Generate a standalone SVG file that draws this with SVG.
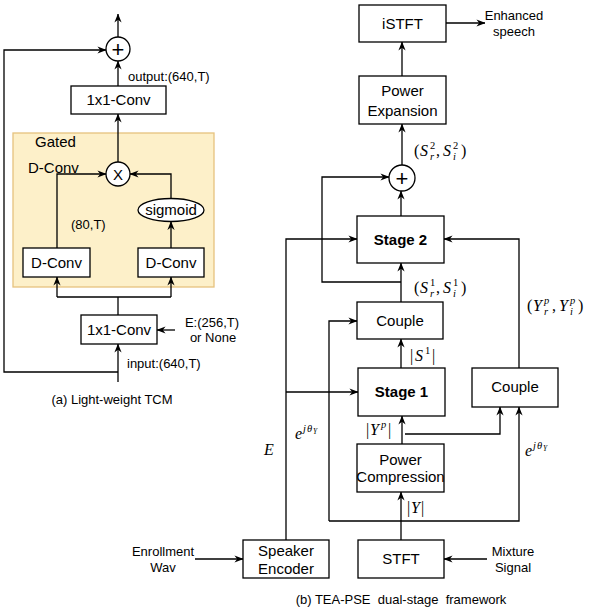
<svg xmlns="http://www.w3.org/2000/svg" width="590" height="608" viewBox="0 0 590 608">
<defs>
<marker id="arr" viewBox="0 0 10 10" refX="9.5" refY="5" markerWidth="9" markerHeight="9" orient="auto" markerUnits="userSpaceOnUse">
<path d="M0,1 L10,5 L0,9 L3,5 z" fill="#000"/>
</marker>
<style>
.box{fill:#fff;stroke:#000;stroke-width:1.3}
.ln{fill:none;stroke:#000;stroke-width:1.3;marker-end:url(#arr)}
.pl{fill:none;stroke:#000;stroke-width:1.3}
.t{font-family:"Liberation Sans",Arial,sans-serif;font-size:15px;fill:#000;text-anchor:middle}
.s{font-family:"Liberation Sans",Arial,sans-serif;font-size:13px;fill:#000}
.b{font-weight:bold}
.m{font-family:"Liberation Serif","DejaVu Serif",serif;font-size:16px;fill:#000}
.mi{font-family:"Liberation Serif","DejaVu Serif",serif;font-size:16px;font-style:italic;fill:#000}
.ms{font-family:"Liberation Serif","DejaVu Serif",serif;font-size:10.5px;font-style:italic;fill:#000}
.mn{font-family:"Liberation Serif","DejaVu Serif",serif;font-size:10.5px;fill:#000}
.pls{font-family:"Liberation Sans",Arial,sans-serif;font-size:22px;fill:#000;text-anchor:middle}
</style>
</defs>

<!-- Left: Light-weight TCM -->
<rect id="gated" x="13" y="133" width="201" height="154" fill="#fdf0c9" stroke="#e6c27e" stroke-width="1.3"/>
<g id="plusA"><circle cx="118" cy="49" r="12" class="box"/><text x="118" y="56.5" class="pls">+</text></g>
<g id="conv1a"><rect x="71" y="86" width="95" height="28" class="box"/><text x="118.5" y="105" class="t">1x1-Conv</text></g>
<g id="mulX"><circle cx="118" cy="174" r="12" class="box"/><text x="118" y="179.5" class="t">X</text></g>
<g id="sigmoid"><ellipse cx="171" cy="210" rx="33" ry="11.5" class="box"/><text x="171" y="215" class="t">sigmoid</text></g>
<g id="dconvL"><rect x="23" y="248" width="67" height="29" class="box"/><text x="56.5" y="268" class="t">D-Conv</text></g>
<g id="dconvR"><rect x="138" y="248" width="66" height="29" class="box"/><text x="171" y="268" class="t">D-Conv</text></g>
<g id="conv1b"><rect x="81" y="315" width="76" height="29" class="box"/><text x="119" y="335" class="t">1x1-Conv</text></g>

<!-- Right: TEA-PSE -->
<g id="istft"><rect x="359" y="5" width="87" height="37" class="box"/><text x="402.5" y="29" class="t">iSTFT</text></g>
<g id="pexp"><rect x="359" y="76" width="87" height="48" class="box"/><text x="402.5" y="96" class="t">Power</text><text x="402.5" y="116" class="t">Expansion</text></g>
<g id="plusB"><circle cx="402" cy="178" r="13" class="box"/><text x="402" y="185.5" class="pls">+</text></g>
<g id="stage2"><rect x="357" y="216" width="87" height="47" class="box"/><text x="400.5" y="245" class="t b">Stage 2</text></g>
<g id="couple1"><rect x="357" y="302" width="86" height="37" class="box"/><text x="400" y="326" class="t">Couple</text></g>
<g id="stage1"><rect x="358" y="368" width="87" height="48" class="box"/><text x="401.5" y="397" class="t b">Stage 1</text></g>
<g id="couple2"><rect x="472" y="368" width="86" height="39" class="box"/><text x="515" y="392" class="t">Couple</text></g>
<g id="pcomp"><rect x="357" y="444" width="87" height="48" class="box"/><text x="400.5" y="465" class="t" font-size="14">Power</text><text x="400.5" y="482" class="t" font-size="14">Compression</text></g>
<g id="stft"><rect x="358" y="540" width="86" height="38" class="box"/><text x="401" y="564" class="t">STFT</text></g>
<g id="spkenc"><rect x="243" y="540" width="86" height="38" class="box"/><text x="286" y="556" class="t">Speaker</text><text x="286" y="574" class="t">Encoder</text></g>

<g id="connectors">
<line x1="118" y1="37" x2="118" y2="14" class="ln"/>
<line x1="118" y1="86" x2="118" y2="61" class="ln"/>
<line x1="118" y1="162" x2="118" y2="114" class="ln"/>
<path d="M57,248 V174 H106" class="ln"/>
<path d="M171,198.5 V174 H130" class="ln"/>
<line x1="171" y1="248" x2="171" y2="221.5" class="ln"/>
<path d="M118,315 V297" class="pl"/>
<path d="M57,297 H171" class="pl"/>
<line x1="57" y1="297" x2="57" y2="277" class="ln"/>
<line x1="171" y1="297" x2="171" y2="277" class="ln"/>
<line x1="118" y1="382" x2="118" y2="344" class="ln"/>
<path d="M118,372 H4 V50 H106" class="ln"/>
<line x1="175" y1="330" x2="157" y2="330" class="ln"/>

<line x1="446" y1="23" x2="485" y2="23" class="ln"/>
<line x1="402" y1="76" x2="402" y2="42" class="ln"/>
<line x1="402" y1="165" x2="402" y2="124" class="ln"/>
<line x1="401" y1="216" x2="401" y2="191" class="ln"/>
<path d="M401,282 H322 V177 H389" class="ln"/>
<line x1="401" y1="302" x2="401" y2="263" class="ln"/>
<path d="M286,540 V239 H357" class="ln"/>
<line x1="286" y1="392" x2="358" y2="392" class="ln"/>
<path d="M519,368 V239 H444" class="ln"/>
<line x1="401" y1="368" x2="401" y2="339" class="ln"/>
<path d="M329,521 V321 H357" class="ln"/>
<path d="M329,521 H519 V407" class="ln"/>
<line x1="402" y1="444" x2="402" y2="416" class="ln"/>
<path d="M405,434 H500 V407" class="ln"/>
<line x1="401" y1="540" x2="401" y2="492" class="ln"/>
<line x1="487" y1="559" x2="444" y2="559" class="ln"/>
<line x1="195" y1="559" x2="243" y2="559" class="ln"/>
</g>

<!-- Left labels -->
<text x="128" y="81" class="s">output:(640,T)</text>
<text x="35" y="147" class="t" style="text-anchor:start">Gated</text>
<text x="28" y="173" class="t" style="text-anchor:start">D-Conv</text>
<text x="71" y="229" class="s">(80,T)</text>
<text x="212" y="327" class="s" text-anchor="middle">E:(256,T)</text>
<text x="213" y="342" class="s" text-anchor="middle">or None</text>
<text x="127" y="368" class="s">input:(640,T)</text>
<text x="112" y="404" class="s" text-anchor="middle">(a) Light-weight TCM</text>

<!-- Right labels -->
<text x="514" y="20" class="s" text-anchor="middle">Enhanced</text>
<text x="514" y="36" class="s" text-anchor="middle">speech</text>
<text x="513" y="556" class="s" text-anchor="middle">Mixture</text>
<text x="513" y="572" class="s" text-anchor="middle">Signal</text>
<text x="163" y="556" class="s" text-anchor="middle">Enrollment</text>
<text x="163" y="572" class="s" text-anchor="middle">Wav</text>
<text x="401" y="604" class="s" text-anchor="middle" xml:space="preserve">(b) TEA-PSE  dual-stage  framework</text>

<!-- Math labels -->
<g id="lblS2">
<text x="414" y="156" class="m">(</text><text x="420" y="156" class="mi">S</text>
<text x="430" y="149" class="mn">2</text><text x="430" y="160" class="ms">r</text>
<text x="436" y="156" class="m">,</text><text x="443" y="156" class="mi">S</text>
<text x="453" y="149" class="mn">2</text><text x="453" y="160" class="ms">i</text>
<text x="461" y="156" class="m">)</text>
</g>
<g id="lblS1">
<text x="414" y="293" class="m">(</text><text x="420" y="293" class="mi">S</text>
<text x="430" y="286" class="mn">1</text><text x="430" y="297" class="ms">r</text>
<text x="436" y="293" class="m">,</text><text x="443" y="293" class="mi">S</text>
<text x="453" y="286" class="mn">1</text><text x="453" y="297" class="ms">i</text>
<text x="461" y="293" class="m">)</text>
</g>
<g id="lblAbsS1">
<text x="410" y="361" class="m">|</text><text x="415" y="361" class="mi">S</text>
<text x="425" y="354" class="mn">1</text><text x="432" y="361" class="m">|</text>
</g>
<g id="lblYp">
<text x="527" y="311" class="m">(</text><text x="533" y="311" class="mi">Y</text>
<text x="544" y="304" class="ms">p</text><text x="544" y="315" class="ms">r</text>
<text x="552" y="311" class="m">,</text><text x="559" y="311" class="mi">Y</text>
<text x="570" y="304" class="ms">p</text><text x="570" y="315" class="ms">i</text>
<text x="578" y="311" class="m">)</text>
</g>
<g id="lblAbsYp">
<text x="366" y="435" class="m">|</text><text x="370" y="435" class="mi">Y</text>
<text x="381" y="428" class="ms">p</text><text x="388" y="435" class="m">|</text>
</g>
<g id="lblAbsY">
<text x="407" y="513" class="m">|</text><text x="411" y="513" class="mi">Y</text>
<text x="421" y="513" class="m">|</text>
</g>
<text x="264" y="455" class="mi">E</text>
<g id="lblE1">
<text x="295" y="439" class="mi">e</text><text x="303" y="432" class="ms">j</text><text x="307" y="432" class="ms">θ</text><text x="313" y="434" class="ms" style="font-size:7.5px">Y</text>
</g>
<g id="lblE2">
<text x="525" y="456" class="mi">e</text><text x="533" y="449" class="ms">j</text><text x="537" y="449" class="ms">θ</text><text x="543" y="451" class="ms" style="font-size:7.5px">Y</text>
</g>
</svg>
